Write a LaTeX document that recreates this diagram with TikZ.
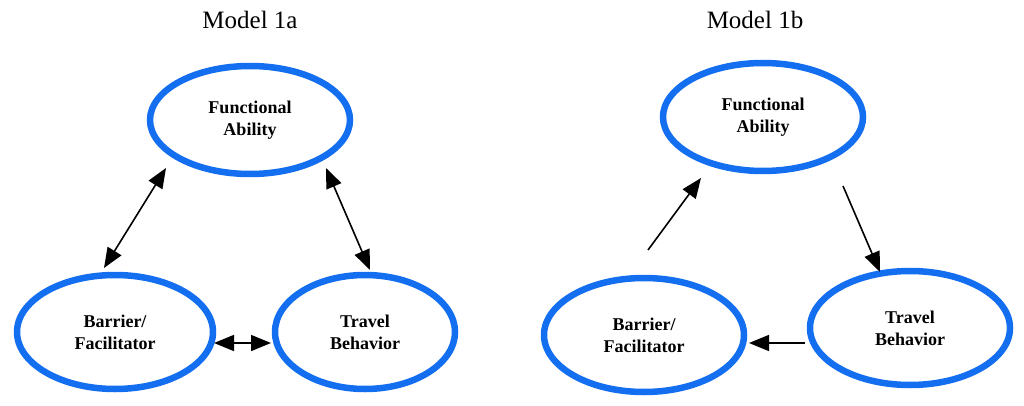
\documentclass[tikz,border=0pt]{standalone}
\usepackage{fontspec}
\setmainfont{Liberation Serif}
\usetikzlibrary{arrows.meta,shapes.geometric}
\begin{document}
\begin{tikzpicture}[x=1pt,y=-1pt,
  ell/.style={draw={rgb,255:red,20;green,110;blue,240},line width=6.5pt,ellipse,minimum width=200pt,minimum height=108pt,align=center,font=\bfseries\fontsize{18}{22}\selectfont},
  ttl/.style={font=\fontsize{25}{29}\selectfont},
  arr/.style={line width=1.6pt,-{Triangle[length=20pt,width=16pt]}},
  darr/.style={line width=1.6pt,{Triangle[length=20pt,width=16pt]}-{Triangle[length=20pt,width=16pt]}}]
\useasboundingbox (0,0) rectangle (1024,406);
\node[ttl] (t1) at (250,20) {Model 1a};
\node[ttl] (t2) at (755,20) {Model 1b};
\node[ell] (fa1) at (250,120) {Functional\\Ability};
\node[ell,minimum width=196pt,minimum height=114pt] (bf1) at (115,332) {Barrier/\\Facilitator};
\node[ell,minimum width=180pt,minimum height=114pt] (tb1) at (365,332) {Travel\\Behavior};
\node[ell] (fa2) at (763,117) {Functional\\Ability};
\node[ell,minimum width=200pt,minimum height=114pt] (bf2) at (644,335) {Barrier/\\Facilitator};
\node[ell,minimum width=200pt,minimum height=114pt] (tb2) at (910,328) {Travel\\Behavior};
\coordinate (a1) at (166,168); \coordinate (a2) at (104,268);
\coordinate (b1) at (326,168); \coordinate (b2) at (370,270);
\coordinate (c1) at (214,343); \coordinate (c2) at (271,343);
\draw[darr] (a1) -- (a2);
\draw[darr] (b1) -- (b2);
\draw[darr] (c1) -- (c2);
\coordinate (d1) at (648,250); \coordinate (d2) at (701,178);
\coordinate (e1) at (843,186); \coordinate (e2) at (880,272);
\coordinate (f1) at (805,343); \coordinate (f2) at (749,343);
\draw[arr] (d1) -- (d2);
\draw[arr] (e1) -- (e2);
\draw[arr] (f1) -- (f2);
\end{tikzpicture}
\end{document}
